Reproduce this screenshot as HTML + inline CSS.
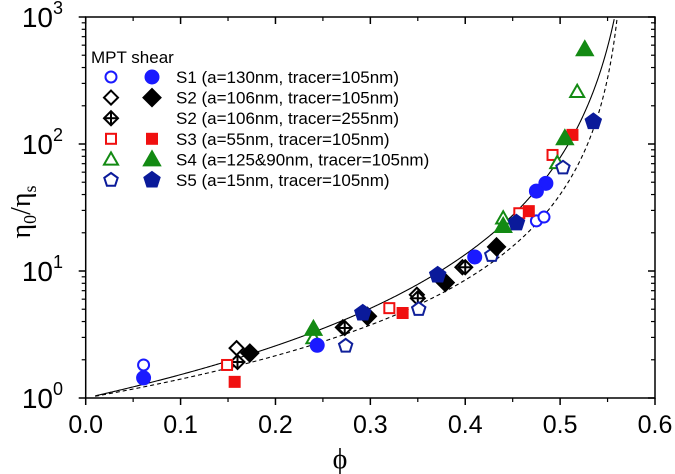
<!DOCTYPE html>
<html><head><meta charset="utf-8">
<style>
html,body{margin:0;padding:0;background:#fff;}
svg{display:block;font-family:"Liberation Sans",sans-serif;}
</style></head>
<body>
<svg id="chart" width="675" height="474" viewBox="0 0 675 474" xmlns="http://www.w3.org/2000/svg">
<g id="curves"></g>
<g id="marks"></g>
<g id="axes"></g>
<g id="legend"></g>
</svg>
<script>
const xTicks=[0.0,0.1,0.2,0.3,0.4,0.5,0.6];
const xTickLabels=["0.0","0.1","0.2","0.3","0.4","0.5","0.6"];
const yDecades=[0,1,2,3];
const s1OpenX=[0.061,0.475,0.483];
const s1OpenY=[1.82,24.8,26.6];
const s1FillX=[0.061,0.244,0.41,0.475,0.485];
const s1FillY=[1.44,2.6,12.9,42.6,49];
const s2OpenX=[0.159,0.271,0.349,0.397];
const s2OpenY=[2.47,3.6,6.5,10.7];
const s2FillX=[0.173,0.297,0.379,0.433];
const s2FillY=[2.26,4.4,8.1,15.5];
const s2CrossX=[0.160,0.273,0.350,0.400];
const s2CrossY=[1.92,3.56,6.1,10.7];
const s3OpenX=[0.149,0.32,0.457,0.492];
const s3OpenY=[1.82,5.1,28.5,82];
const s3FillX=[0.157,0.334,0.467,0.513];
const s3FillY=[1.34,4.67,29.6,118];
const s4OpenX=[0.24,0.44,0.497,0.518];
const s4OpenY=[2.97,26,71,258];
const s4FillX=[0.24,0.44,0.505,0.526];
const s4FillY=[3.5,22.6,111,557];
const s5OpenX=[0.274,0.351,0.428,0.503];
const s5OpenY=[2.57,5.0,13.3,65];
const s5FillX=[0.292,0.371,0.454,0.535];
const s5FillY=[4.67,9.3,23.9,150];
const solidPhiM=0.585, solidN=2.26;
const dashPhiM=0.572, dashN=1.78;

const L=85.7,R=655,T=17,B=398;
const X=v=>L+(v-0)/0.6*(R-L);
const Y=v=>B-Math.log10(v)/3*(B-T);
const NS="http://www.w3.org/2000/svg";
function mk(tag,attrs,parent){const e=document.createElementNS(NS,tag);for(const k in attrs)e.setAttribute(k,attrs[k]);parent.appendChild(e);return e;}
const axes=document.getElementById('axes'),marks=document.getElementById('marks'),curves=document.getElementById('curves'),legend=document.getElementById('legend');

function curve(phiM,n,dash,name){
 let d="";
 for(let p=0.01;p<phiM;p+=0.0005){const v=Math.pow(1-p/phiM,-n);if(v>1000)break;d+=(d?"L":"M")+X(p).toFixed(2)+","+Y(v).toFixed(2);}
 const e=mk('path',{d:d,fill:"none",stroke:"#000","stroke-width":1.1,"stroke-dasharray":dash},curves);
 
 
}
curve(solidPhiM,solidN,"none","solid-model-curve");
curve(dashPhiM,dashN,"4,3","dashed-model-curve");

function marker(type,cx,cy,color,filled,parent){
 const sw=2,fill=filled?color:"#fff";
 let e;
 if(type==='circle')e=mk('circle',{cx:cx,cy:cy,r:filled?6.5:5.5,fill:fill,stroke:color,"stroke-width":sw},parent);
 else if(type==='square'){const s=filled?12:10;e=mk('rect',{x:cx-s/2,y:cy-s/2,width:s,height:s,fill:fill,stroke:color,"stroke-width":filled?0:sw},parent);}
 else if(type==='diamond'||type==='cross'){const s=filled?8.5:7;e=mk('polygon',{points:`${cx},${cy-s} ${cx+s},${cy} ${cx},${cy+s} ${cx-s},${cy}`,fill:fill,stroke:color,"stroke-width":sw},parent);
   if(type==='cross'){mk('line',{x1:cx-s,y1:cy,x2:cx+s,y2:cy,stroke:color,"stroke-width":sw},parent);mk('line',{x1:cx,y1:cy-s,x2:cx,y2:cy+s,stroke:color,"stroke-width":sw},parent);}}
 else if(type==='triangle'){const s=filled?8:7;e=mk('polygon',{points:`${cx},${cy-s} ${cx+s},${cy+s*0.75} ${cx-s},${cy+s*0.75}`,fill:fill,stroke:color,"stroke-width":sw},parent);}
 else if(type==='pentagon'){const s=filled?8:7;let pts=[];for(let i=0;i<5;i++){const a=-Math.PI/2+i*2*Math.PI/5;pts.push((cx+s*Math.cos(a)).toFixed(1)+","+(cy+s*Math.sin(a)).toFixed(1));}e=mk('polygon',{points:pts.join(" "),fill:fill,stroke:color,"stroke-width":sw},parent);}
 return e;
}
const series=[
 ['circle','#1a1aff',false,s1OpenX,s1OpenY,'s1-open'],
 ['diamond','#000',false,s2OpenX,s2OpenY,'s2-open'],
 ['cross','#000',false,s2CrossX,s2CrossY,'s2-crossed'],
 ['square','#f01010',false,s3OpenX,s3OpenY,'s3-open'],
 ['triangle','#138a13',false,s4OpenX,s4OpenY,'s4-open'],
 ['pentagon','#10209a',false,s5OpenX,s5OpenY,'s5-open'],
 ['circle','#1a1aff',true,s1FillX,s1FillY,'s1-filled'],
 ['diamond','#000',true,s2FillX,s2FillY,'s2-filled'],
 ['square','#f01010',true,s3FillX,s3FillY,'s3-filled'],
 ['triangle','#138a13',true,s4FillX,s4FillY,'s4-filled'],
 ['pentagon','#0a1a9a',true,s5FillX,s5FillY,'s5-filled'],
];
series.forEach(s=>{
 const g=mk('g',{},marks);
 
 
 s[3].forEach((xv,i)=>{const e=marker(s[0],X(xv),Y(s[4][i]),s[1],s[2],g);
  
  });
});

const frame=mk('rect',{x:L,y:T,width:R-L,height:B-T,fill:"none",stroke:"#000","stroke-width":1.5},axes);


xTicks.forEach((v,i)=>{
 const x=X(v);
 mk('line',{x1:x,y1:B,x2:x,y2:B+7,stroke:"#000","stroke-width":1.5},axes);
 mk('line',{x1:x,y1:T,x2:x,y2:T+7,stroke:"#000","stroke-width":1.5},axes);
 if(i<xTicks.length-1){const xm=X(v+0.05);
  mk('line',{x1:xm,y1:B,x2:xm,y2:B+4,stroke:"#000","stroke-width":1.2},axes);
  mk('line',{x1:xm,y1:T,x2:xm,y2:T+4,stroke:"#000","stroke-width":1.2},axes);}
 const t=mk('text',{x:x,y:433,"font-size":25,"text-anchor":"middle",fill:"#000"},axes);
 t.textContent=xTickLabels[i];
 
 
});
yDecades.forEach(d=>{
 const y=Y(Math.pow(10,d));
 mk('line',{x1:L-7,y1:y,x2:L,y2:y,stroke:"#000","stroke-width":1.5},axes);
 mk('line',{x1:R-7,y1:y,x2:R,y2:y,stroke:"#000","stroke-width":1.5},axes);
 if(d<3){for(let m=2;m<10;m++){const ym=Y(m*Math.pow(10,d));
  mk('line',{x1:L-4,y1:ym,x2:L,y2:ym,stroke:"#000","stroke-width":1.2},axes);
  mk('line',{x1:R-4,y1:ym,x2:R,y2:ym,stroke:"#000","stroke-width":1.2},axes);}}
 const t=mk('text',{x:63,y:y+10,"font-size":28,"text-anchor":"end",fill:"#000"},axes);
 t.textContent="10";
 const sup=mk('tspan',{dy:-13,"font-size":18},t);sup.textContent=String(d);
 
 
});
const xt=mk('text',{x:340,y:468,"font-size":28,"text-anchor":"middle",fill:"#000","font-family":"Liberation Serif, serif"},axes);
xt.textContent="ϕ";


const yt=mk('text',{x:0,y:0,"font-size":28,"text-anchor":"middle",fill:"#000",transform:"translate(30,212) rotate(-90)","font-family":"Liberation Serif, serif"},axes);
yt.innerHTML='η<tspan dy="6" font-size="18">0</tspan><tspan dy="-6">/η</tspan><tspan dy="6" font-size="18">s</tspan>';



const lt=mk('text',{x:91,y:63,"font-size":17,fill:"#000"},legend);
lt.textContent="MPT shear";


const legRows=[
 ['circle','#1a1aff',true,"S1 (a=130nm, tracer=105nm)"],
 ['diamond','#000',true,"S2 (a=106nm, tracer=105nm)"],
 ['cross','#000',false,"S2 (a=106nm, tracer=255nm)"],
 ['square','#f01010',true,"S3 (a=55nm, tracer=105nm)"],
 ['triangle','#138a13',true,"S4 (a=125&90nm, tracer=105nm)"],
 ['pentagon','#0a1a9a',true,"S5 (a=15nm, tracer=105nm)"],
];
legRows.forEach((r,i)=>{
 const y=77+i*20.6;
 const g=mk('g',{},legend);
 
 
 marker(r[0],111,y,r[1],false,g);
 if(r[2])marker(r[0],152,y,r[1],true,g);
 const t=mk('text',{x:176,y:y+6,"font-size":17,fill:"#000"},g);
 t.textContent=r[3];
});
</script>
</body></html>
